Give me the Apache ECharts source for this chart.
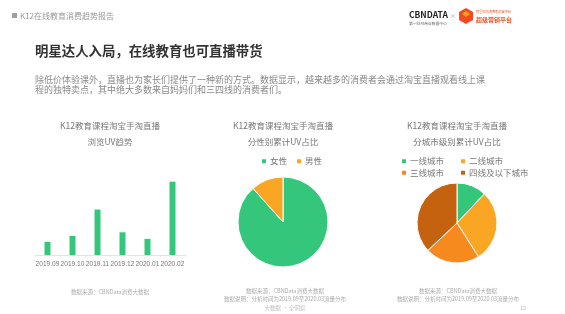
<!DOCTYPE html>
<html>
<head>
<meta charset="utf-8">
<script src="https://cdn.jsdelivr.net/npm/echarts@6/dist/echarts.min.js"></script>
<style>
html,body{margin:0;padding:0;background:#fff;}
#c{width:565px;height:314px;}
</style>
</head>
<body>
<div id="c"></div>
<script>
// ---- data ----
var months = ['2019.09', '2019.10', '2019.11', '2019.12', '2020.01', '2020.02'];
var uvTrend = [18, 26, 62, 31, 22, 100];
var genderNames = ['女性', '男性'];
var genderValues = [88.4, 11.6];
var cityNames = ['一线城市', '二线城市', '三线城市', '四线及以下城市'];
var cityValues = [12, 29, 22, 37];

var FONT = '"Noto Sans CJK SC", "Noto Sans", sans-serif';
var GREEN = '#34c77b';
var cityColors = ['#34c77b', '#f8a623', '#f68a1e', '#c4620f'];
var genderColors = ['#34c77b', '#f8a623'];

function txt(x, y, s, size, color, align, weight) {
  return {
    type: 'text', x: x, y: y, silent: true,
    style: {
      text: s, fill: color, align: align || 'left', verticalAlign: 'middle',
      font: (weight || 'normal') + ' ' + size + 'px ' + FONT
    }
  };
}

var chart = echarts.init(document.getElementById('c'));
chart.setOption({
  backgroundColor: '#ffffff',
  animation: false,
  textStyle: { fontFamily: FONT },
  graphic: [
    { type: 'rect', shape: { x: 12, y: 13, width: 5, height: 5 }, style: { fill: '#a0a0a0' } },
    txt(20, 16, 'K12在线教育消费趋势报告', 8, '#999'),
    txt(409, 15, 'CBNDATA', 8.5, '#222', 'left', 'bold'),
    txt(409, 24, '第一财经商业数据中心', 3.8, '#666'),
    txt(450, 16, '×', 6, '#999'),
    { type: 'polygon', shape: { points: [[466, 8], [473, 12], [473, 20], [466, 24], [459, 20], [459, 12]] }, style: { fill: '#f04b23' } },
    { type: 'polygon', shape: { points: [[466, 11], [470, 14], [466, 17], [462, 14]] }, style: { fill: '#f7a21b' } },
    txt(476, 12, '阿里巴巴消费者运营平台', 3.2, '#e8552a'),
    txt(476, 20, '超级营销平台', 6, '#e8552a', 'left', 'bold'),

    txt(35, 51, '明星达人入局，在线教育也可直播带货', 13.4, '#333', 'left', 'bold'),
    txt(35, 79.5, '除低价体验课外，直播也为家长们提供了一种新的方式。数据显示，越来越多的消费者会通过淘宝直播观看线上课', 9, '#888'),
    txt(35, 89.5, '程的独特卖点，其中绝大多数来自妈妈们和三四线的消费者们。', 9, '#888'),

    txt(110, 126, 'K12教育课程淘宝手淘直播', 8.5, '#777', 'center'),
    txt(110, 142, '浏览UV趋势', 8.5, '#777', 'center'),
    txt(283, 126, 'K12教育课程淘宝手淘直播', 8.5, '#777', 'center'),
    txt(283, 142, '分性别累计UV占比', 8.5, '#777', 'center'),
    txt(457, 126, 'K12教育课程淘宝手淘直播', 8.5, '#777', 'center'),
    txt(457, 142, '分城市级别累计UV占比', 8.5, '#777', 'center'),

    txt(110, 292, '数据来源：CBNData消费大数据', 5.5, '#aaa', 'center'),
    txt(285, 291, '数据来源：CBNData消费大数据', 5.5, '#aaa', 'center'),
    txt(285, 299, '数据说明：分析时间为2019.09至2020.03流量分布', 5.5, '#aaa', 'center'),
    txt(458, 291, '数据来源：CBNData消费大数据', 5.5, '#aaa', 'center'),
    txt(458, 299, '数据说明：分析时间为2019.09至2020.03流量分布', 5.5, '#aaa', 'center'),
    txt(285, 308, '大数据 · 全洞察', 5.5, '#bbb', 'center'),
    txt(523, 308, '12', 5.5, '#bbb', 'center')
  ],
  legend: [
    {
      data: genderNames, left: 260, top: 157, orient: 'horizontal', padding: 0,
      icon: 'rect', itemWidth: 6, itemHeight: 6, itemGap: 8,
      textStyle: { fontSize: 8.5, color: '#777', padding: [0, 0, 0, -2] }
    },
    {
      data: [cityNames[0], cityNames[2]], left: 400, top: 157, orient: 'vertical', padding: 0,
      icon: 'rect', itemWidth: 6, itemHeight: 6, itemGap: 3,
      textStyle: { fontSize: 8.5, color: '#777', padding: [0, 0, 0, -2] }
    },
    {
      data: [cityNames[1], cityNames[3]], left: 459, top: 157, orient: 'vertical', padding: 0,
      icon: 'rect', itemWidth: 6, itemHeight: 6, itemGap: 3,
      textStyle: { fontSize: 8.5, color: '#777', padding: [0, 0, 0, -2] }
    }
  ],
  grid: { left: 35, top: 181.7, width: 150, height: 73.3, containLabel: false },
  xAxis: {
    type: 'category', data: months,
    axisLine: { lineStyle: { color: '#e4e4e4' } },
    axisTick: { show: true, lineStyle: { color: '#eaeaea' }, length: 2 },
    axisLabel: { fontSize: 6.6, color: '#777', margin: 6, interval: 0, fontFamily: 'Liberation Sans, Arial, sans-serif' }
  },
  yAxis: { type: 'value', min: 0, max: 100, show: false, splitLine: { show: false } },
  series: [
    {
      type: 'bar', data: uvTrend, barWidth: 6,
      itemStyle: { color: GREEN }
    },
    {
      type: 'pie', center: [283, 222], radius: 45, startAngle: 90, clockwise: true,
      label: { show: false }, labelLine: { show: false },
      itemStyle: { borderColor: '#fff', borderWidth: 1 },
      data: genderNames.map(function (n, i) { return { name: n, value: genderValues[i], itemStyle: { color: genderColors[i] } }; })
    },
    {
      type: 'pie', center: [457, 223], radius: 40, startAngle: 90, clockwise: true,
      label: { show: false }, labelLine: { show: false },
      itemStyle: { borderColor: '#fff', borderWidth: 1 },
      data: cityNames.map(function (n, i) { return { name: n, value: cityValues[i], itemStyle: { color: cityColors[i] } }; })
    }
  ]
});
</script>
</body>
</html>
